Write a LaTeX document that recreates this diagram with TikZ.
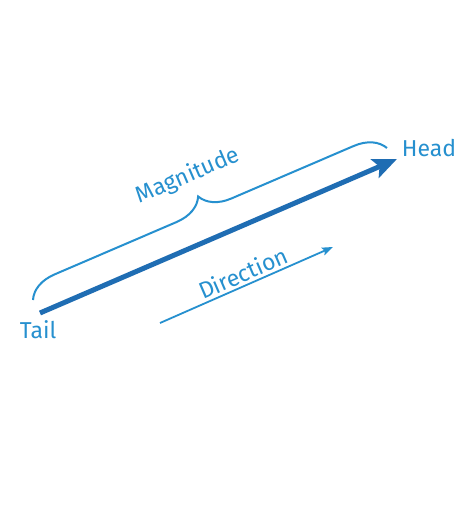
\documentclass[tikz,border=0pt]{standalone}
\usepackage{fontspec}
\setmainfont{Fira Sans}
\usetikzlibrary{arrows.meta,decorations.pathreplacing}
\definecolor{vecblue}{HTML}{1F6DB3}
\definecolor{lblblue}{HTML}{2690CF}
\tikzset{
  lbl/.style={text=lblblue,font=\fontsize{23}{26}\selectfont,inner sep=0pt},
  vec/.style={draw=vecblue,line width=5pt,-{Stealth[length=24pt,width=20pt,inset=5pt]}},
  dirvec/.style={draw=lblblue,line width=1.8pt,-{Stealth[length=11pt,width=8pt,inset=2pt]}},
  bracel/.style={draw=lblblue,line width=2pt,decorate,decoration={brace,amplitude=30pt}}
}
\begin{document}
\begin{tikzpicture}[x=1pt,y=-1pt]
	\fill[white] (0,0) rectangle (474,505);
	\useasboundingbox (0,0) rectangle (474,505);
	% end labels
	\node[lbl] (tail) at (38,330) {Tail};
	\node[lbl] (head) at (429,148) {Head};
	% the vector
	\coordinate (tailpt) at (40,313);
	\coordinate (headpt) at (397,159);
	\draw[vec] (tailpt)--(headpt);
	% magnitude brace
	\coordinate (bl) at (33,300);
	\coordinate (br) at (387,148);
	\draw[bracel] (bl)--(br);
	\node[lbl,rotate=23.2] (mag) at (188,176) {Magnitude};
	% direction arrow
	\coordinate (dl) at (160,323);
	\coordinate (dr) at (333,247);
	\draw[dirvec] (dl)--(dr);
	\node[lbl,rotate=23.4] (dir) at (243,273) {Direction};
\end{tikzpicture}
\end{document}
